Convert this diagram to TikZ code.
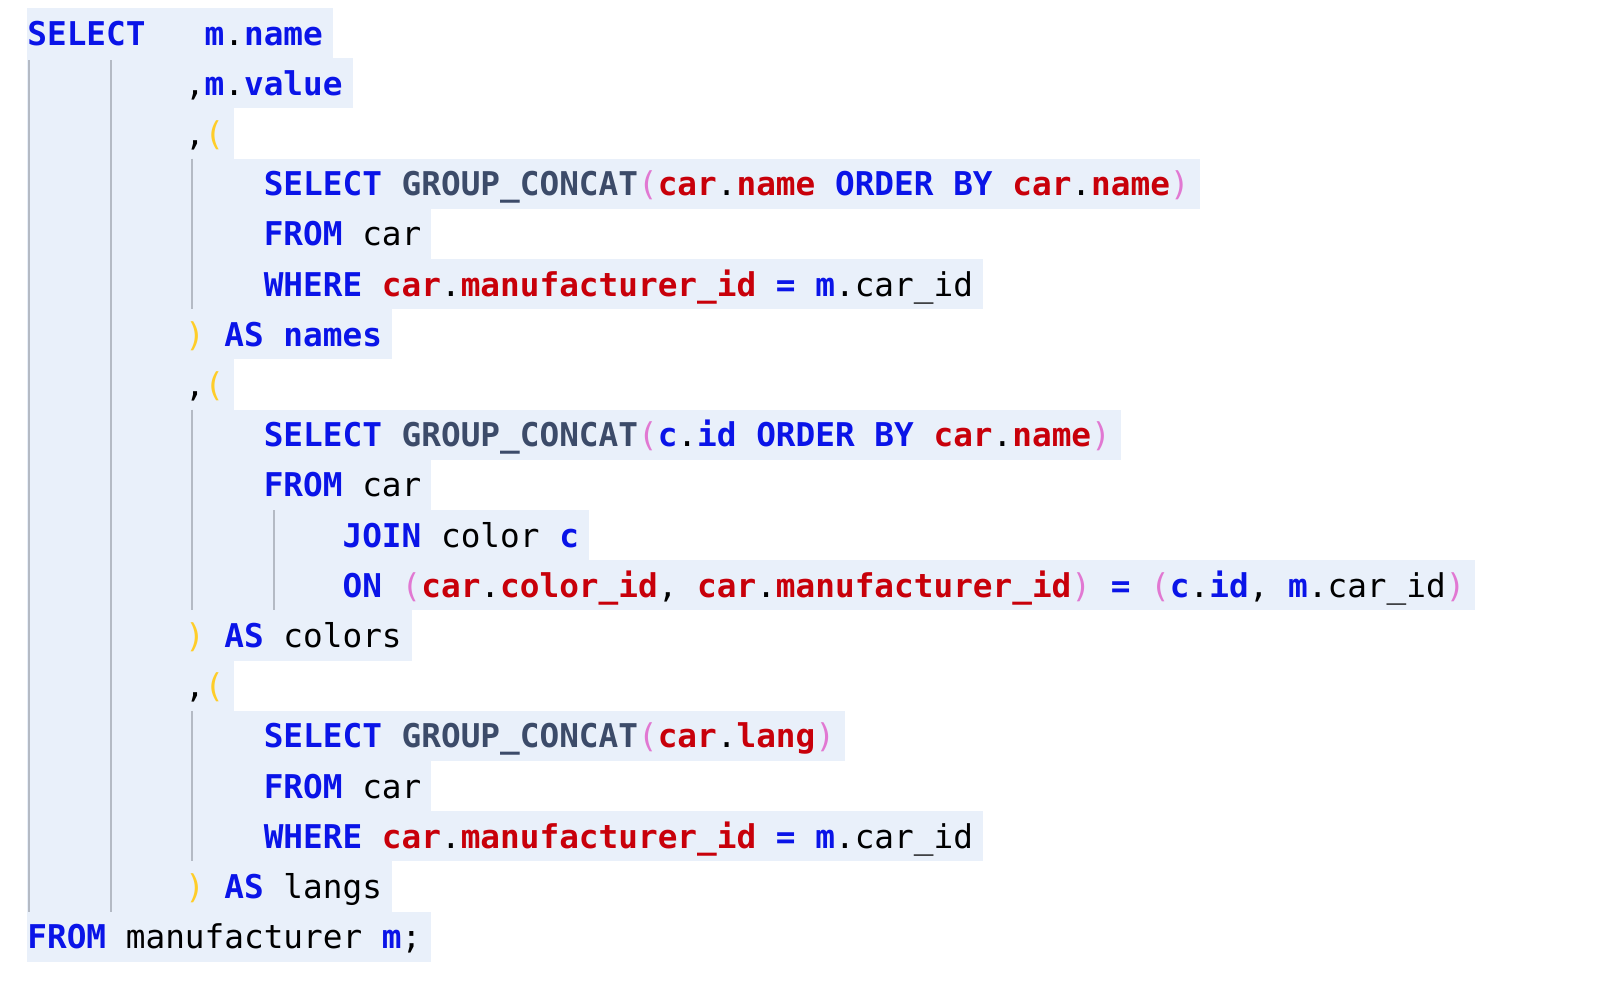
\documentclass[tikz,border=0pt]{standalone}
\usepackage{fontspec}
\newfontfamily\code{DejaVu Sans Mono}
\definecolor{kw}{RGB}{10,20,232}
\definecolor{rd}{RGB}{200,0,10}
\definecolor{fnc}{RGB}{60,75,105}
\definecolor{pk}{RGB}{225,120,210}
\definecolor{yl}{RGB}{255,205,40}
\definecolor{bg}{RGB}{233,240,250}
\definecolor{gd}{RGB}{180,186,196}
\newlength\cw \setlength\cw{9.85pt}
\newcommand\cK[1]{\textcolor{kw}{\bfseries #1}}
\newcommand\cR[1]{\textcolor{rd}{\bfseries #1}}
\newcommand\cF[1]{\textcolor{fnc}{\bfseries #1}}
\newcommand\cP[1]{\textcolor{pk}{#1}}
\newcommand\cY[1]{\textcolor{yl}{#1}}
\newcommand\ind[1]{\hspace*{#1\cw}}
\newcommand\pad{\hspace*{5pt}}
\tikzset{codeline/.style={fill=bg,inner sep=0pt,anchor=base west,text height=18.5pt,text depth=6.6pt,font=\code\fontsize{16.36}{20}\selectfont},
guide/.style={draw=gd,line width=1pt}}
\begin{document}
\begin{tikzpicture}[x=0.5pt,y=-0.5pt]
\useasboundingbox (0,0) rectangle (1622,1002);
\foreach \n/\c/\t in {
1/0/{\cK{SELECT}\ind{3}\cK{m}.\cK{name}},
2/8/{,\cK{m}.\cK{value}},
3/8/{,\cY{(}},
4/12/{\cK{SELECT} \cF{GROUP\_CONCAT}\cP{(}\cR{car}.\cR{name} \cK{ORDER BY} \cR{car}.\cR{name}\cP{)}},
5/12/{\cK{FROM} car},
6/12/{\cK{WHERE} \cR{car}.\cR{manufacturer\_id} \cK{=} \cK{m}.car\_id},
7/8/{\cY{)} \cK{AS} \cK{names}},
8/8/{,\cY{(}},
9/12/{\cK{SELECT} \cF{GROUP\_CONCAT}\cP{(}\cK{c}.\cK{id} \cK{ORDER BY} \cR{car}.\cR{name}\cP{)}},
10/12/{\cK{FROM} car},
11/16/{\cK{JOIN} color \cK{c}},
12/16/{\cK{ON} \cP{(}\cR{car}.\cR{color\_id}, \cR{car}.\cR{manufacturer\_id}\cP{)} \cK{=} \cP{(}\cK{c}.\cK{id}, \cK{m}.car\_id\cP{)}},
13/8/{\cY{)} \cK{AS} colors},
14/8/{,\cY{(}},
15/12/{\cK{SELECT} \cF{GROUP\_CONCAT}\cP{(}\cR{car}.\cR{lang}\cP{)}},
16/12/{\cK{FROM} car},
17/12/{\cK{WHERE} \cR{car}.\cR{manufacturer\_id} \cK{=} \cK{m}.car\_id},
18/8/{\cY{)} \cK{AS} langs},
19/0/{\cK{FROM} manufacturer \cK{m};}}
{\node[codeline] (l\n) at (27,{45+50.2*(\n-1)}) {\ind{\c}\t\pad};}
% guides
\coordinate (g1a) at (29,60); \coordinate (g1b) at (29,912);
\coordinate (g2a) at (111,60); \coordinate (g2b) at (111,912);
\draw[guide] (g1a) -- (g1b);
\draw[guide] (g2a) -- (g2b);
\coordinate (g3a) at (192,158.6); \coordinate (g3b) at (192,309);
\coordinate (g4a) at (192,409.6); \coordinate (g4b) at (192,610);
\coordinate (g5a) at (192,710.8); \coordinate (g5b) at (192,861);
\coordinate (g6a) at (274,510); \coordinate (g6b) at (274,610);
\draw[guide] (g3a) -- (g3b);
\draw[guide] (g4a) -- (g4b);
\draw[guide] (g5a) -- (g5b);
\draw[guide] (g6a) -- (g6b);
\end{tikzpicture}
\end{document}
